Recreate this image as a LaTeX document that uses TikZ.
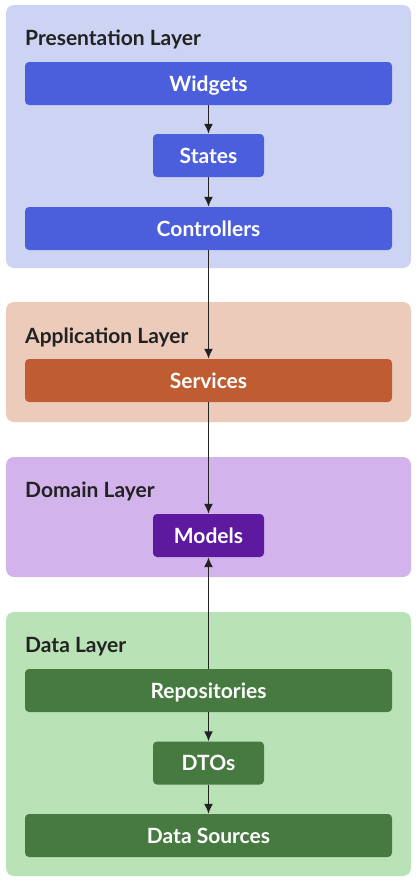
\documentclass[tikz,border=0pt]{standalone}
\usepackage{fontspec}
\setmainfont{Lato}
\usetikzlibrary{arrows.meta}
\definecolor{presbg}{HTML}{CDD3F3}
\definecolor{presbox}{HTML}{4B5EDC}
\definecolor{appbg}{HTML}{ECCBBB}
\definecolor{appbox}{HTML}{C05C32}
\definecolor{dombg}{HTML}{D2B3EC}
\definecolor{dombox}{HTML}{5E1A9E}
\definecolor{databg}{HTML}{B9E3B6}
\definecolor{databox}{HTML}{467A40}
\definecolor{ink}{HTML}{222222}
\newcommand{\layer}[4]{\node[rectangle,rounded corners=8pt,fill=#4,minimum width=405pt,minimum height=#3pt] (#1) at (208.5,#2) {};}
\newcommand{\laytitle}[3]{\node[anchor=base west,text=ink,font=\bfseries\fontsize{21}{25}\selectfont,inner sep=0pt] (#1) at (25,#2) {#3};}
\newcommand{\block}[5]{\node[rectangle,rounded corners=4pt,fill=#4,text=white,font=\bfseries\fontsize{21}{25}\selectfont,text height=15pt,text depth=0pt,minimum width=#3pt,minimum height=43pt,inner sep=0pt] (#1) at (208.5,#2) {#5};}
\newcommand{\link}[2]{\draw[ink,line width=1.5pt,->,>={Latex[length=10pt,width=9pt]}] (#1) -- (#2);}

\begin{document}
\begin{tikzpicture}[x=1pt,y=-1pt]
    \useasboundingbox (0,0) rectangle (418,886);
    \layer{pres}{136.5}{263}{presbg}    \layer{app}{362}{120}{appbg}
    \layer{dom}{517}{120}{dombg}    \layer{data}{744}{264}{databg}
    \laytitle{presT}{45}{Presentation Layer} \laytitle{appT}{343}{Application Layer}
    \laytitle{domT}{497}{Domain Layer} \laytitle{dataT}{652}{Data Layer}

    \block{widgets}{83.5}{367}{presbox}{Widgets}    \block{states}{155.5}{111}{presbox}{States}
    \block{controllers}{228.5}{367}{presbox}{Controllers}
    \block{services}{380.5}{367}{appbox}{Services}
    \block{models}{535.5}{111}{dombox}{Models}
    \block{repos}{690.5}{367}{databox}{Repositories}    \block{dtos}{763}{111}{databox}{DTOs}
    \block{sources}{835.5}{367}{databox}{Data Sources}

    \link{widgets}{states}\link{states}{controllers}\link{controllers}{services}
    \link{services}{models}\link{repos}{models}
    \link{repos}{dtos}\link{dtos}{sources}
\end{tikzpicture}
\end{document}
